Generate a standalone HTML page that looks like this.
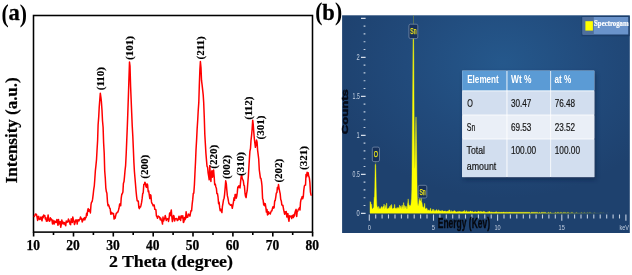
<!DOCTYPE html>
<html><head><meta charset="utf-8"><title>XRD and EDS</title>
<style>
html,body{margin:0;padding:0;background:#fff;}
svg{display:block}
.tb{font-family:"Liberation Serif",serif;font-weight:bold;fill:#000}
.sb{font-family:"Liberation Sans",sans-serif;}
</style></head><body>
<svg width="632" height="275" viewBox="0 0 632 275">
<defs>
<radialGradient id="bg" cx="0.56" cy="0.22" r="0.62">
<stop offset="0" stop-color="#25588c"/><stop offset="0.55" stop-color="#214a7b"/><stop offset="1" stop-color="#1e416e"/>
</radialGradient>
<clipPath id="pc"><rect x="33.5" y="16" width="279" height="215.5"/></clipPath>
<filter id="sh" x="-20%" y="-20%" width="140%" height="140%"><feGaussianBlur stdDeviation="2.2"/></filter>
<linearGradient id="yf" gradientUnits="userSpaceOnUse" x1="480" y1="0" x2="612" y2="0"><stop offset="0" stop-color="#ffff00" stop-opacity="1"/><stop offset="0.35" stop-color="#f4f410" stop-opacity="0.95"/><stop offset="0.7" stop-color="#c8d020" stop-opacity="0.5"/><stop offset="1" stop-color="#a0b030" stop-opacity="0"/></linearGradient>
</defs>
<rect width="632" height="275" fill="#fff"/>

<text class="tb"><tspan x="1.5" y="21.5" font-size="24.6" textLength="7.2" lengthAdjust="spacingAndGlyphs">(</tspan><tspan x="8.6" y="20.3" font-size="22.5" stroke="#000" stroke-width="0.3">a</tspan><tspan x="19.7" y="21.5" font-size="24.6" textLength="7.2" lengthAdjust="spacingAndGlyphs">)</tspan></text>
<rect x="33.5" y="15.5" width="279" height="216.6" fill="none" stroke="#000" stroke-width="1.55"/>
<text class="tb" x="33.2" y="249.6" font-size="13.8" text-anchor="middle" textLength="13.5" lengthAdjust="spacingAndGlyphs" stroke="#000" stroke-width="0.25">10</text>
<text class="tb" x="73.1" y="249.6" font-size="13.8" text-anchor="middle" textLength="13.5" lengthAdjust="spacingAndGlyphs" stroke="#000" stroke-width="0.25">20</text>
<text class="tb" x="112.9" y="249.6" font-size="13.8" text-anchor="middle" textLength="13.5" lengthAdjust="spacingAndGlyphs" stroke="#000" stroke-width="0.25">30</text>
<text class="tb" x="152.8" y="249.6" font-size="13.8" text-anchor="middle" textLength="13.5" lengthAdjust="spacingAndGlyphs" stroke="#000" stroke-width="0.25">40</text>
<text class="tb" x="192.6" y="249.6" font-size="13.8" text-anchor="middle" textLength="13.5" lengthAdjust="spacingAndGlyphs" stroke="#000" stroke-width="0.25">50</text>
<text class="tb" x="232.5" y="249.6" font-size="13.8" text-anchor="middle" textLength="13.5" lengthAdjust="spacingAndGlyphs" stroke="#000" stroke-width="0.25">60</text>
<text class="tb" x="272.4" y="249.6" font-size="13.8" text-anchor="middle" textLength="13.5" lengthAdjust="spacingAndGlyphs" stroke="#000" stroke-width="0.25">70</text>
<text class="tb" x="312.2" y="249.6" font-size="13.8" text-anchor="middle" textLength="13.5" lengthAdjust="spacingAndGlyphs" stroke="#000" stroke-width="0.25">80</text>
<path d="M33.6,232.2 v4.3 M53.5,232.2 v2.7 M73.5,232.2 v4.3 M93.4,232.2 v2.7 M113.3,232.2 v4.3 M133.2,232.2 v2.7 M153.2,232.2 v4.3 M173.1,232.2 v2.7 M193.0,232.2 v4.3 M213.0,232.2 v2.7 M232.9,232.2 v4.3 M252.8,232.2 v2.7 M272.8,232.2 v4.3 M292.7,232.2 v2.7 M312.6,232.2 v4.3" stroke="#000" stroke-width="1.6" fill="none"/>
<text class="tb" x="108.9" y="266.6" font-size="15.8" textLength="124" lengthAdjust="spacingAndGlyphs" stroke="#000" stroke-width="0.2">2 Theta (degree)</text>
<text class="tb" transform="translate(16.7,183.3) rotate(-90)" font-size="15.8" textLength="106" lengthAdjust="spacingAndGlyphs" stroke="#000" stroke-width="0.2">Intensity (a.u.)</text>
<path d="M33.8,215.7 L34.3,216.5 L34.9,215.2 L35.4,214.0 L36.0,214.9 L36.5,214.3 L37.1,217.3 L37.6,220.4 L38.2,216.7 L38.7,216.4 L39.3,219.3 L39.8,219.5 L40.4,218.9 L40.9,216.9 L41.5,219.2 L42.0,220.8 L42.6,216.6 L43.1,217.8 L43.7,215.0 L44.2,216.0 L44.8,215.5 L45.3,219.0 L45.9,217.7 L46.4,221.1 L47.0,221.3 L47.5,219.9 L48.1,214.9 L48.6,219.2 L49.2,221.1 L49.7,221.3 L50.3,217.8 L50.8,219.7 L51.4,219.0 L51.9,219.9 L52.5,223.9 L53.0,220.3 L53.6,222.0 L54.1,224.0 L54.7,221.0 L55.2,221.8 L55.8,222.5 L56.3,222.1 L56.9,219.5 L57.4,222.6 L58.0,225.3 L58.5,219.4 L59.1,224.1 L59.6,222.8 L60.2,221.6 L60.7,227.3 L61.3,224.6 L61.8,219.9 L62.4,222.5 L62.9,223.8 L63.5,222.3 L64.0,224.0 L64.6,222.6 L65.1,224.4 L65.7,225.8 L66.2,221.1 L66.8,222.4 L67.3,221.2 L67.9,222.0 L68.4,219.1 L69.0,220.3 L69.5,221.7 L70.1,224.4 L70.6,224.6 L71.2,218.8 L71.7,219.7 L72.3,222.4 L72.8,216.9 L73.4,219.8 L73.9,221.4 L74.5,224.5 L75.0,223.1 L75.6,220.4 L76.1,219.9 L76.7,220.6 L77.2,224.1 L77.8,219.9 L78.3,219.7 L78.9,221.0 L79.4,219.8 L80.0,219.1 L80.5,217.0 L81.1,219.0 L81.6,218.6 L82.2,221.9 L82.7,220.7 L83.3,218.8 L83.8,219.7 L84.4,217.6 L84.9,219.9 L85.5,217.6 L86.0,217.6 L86.6,213.3 L87.1,215.4 L87.7,210.3 L88.2,208.6 L88.8,211.3 L89.3,209.6 L89.9,210.8 L90.4,212.9 L91.0,204.6 L91.5,202.2 L92.1,201.6 L92.6,199.2 L93.2,194.3 L93.7,189.7 L94.3,185.8 L94.8,179.2 L95.4,170.3 L95.9,165.8 L96.5,159.8 L97.0,150.8 L97.6,140.7 L98.1,125.0 L98.7,117.1 L99.2,107.6 L99.8,99.5 L100.3,93.2 L100.9,97.4 L101.4,101.7 L102.0,110.3 L102.5,120.8 L103.1,127.3 L103.6,142.5 L104.2,153.0 L104.7,170.7 L105.3,178.2 L105.8,187.8 L106.4,191.8 L106.9,193.2 L107.5,202.0 L108.0,205.7 L108.6,204.9 L109.1,206.3 L109.7,208.3 L110.2,208.8 L110.8,214.2 L111.3,212.2 L111.9,213.7 L112.4,213.1 L113.0,213.8 L113.5,213.5 L114.1,219.1 L114.6,216.6 L115.2,218.2 L115.7,215.6 L116.3,213.2 L116.8,213.1 L117.4,212.0 L117.9,212.1 L118.5,210.1 L119.0,208.3 L119.6,204.3 L120.1,203.7 L120.7,205.7 L121.2,198.4 L121.8,194.2 L122.3,193.8 L122.9,192.1 L123.4,183.4 L124.0,181.6 L124.5,176.6 L125.1,169.8 L125.6,165.7 L126.2,153.8 L126.7,141.6 L127.3,127.0 L127.8,113.4 L128.4,95.8 L128.9,80.1 L129.5,62.0 L130.0,66.0 L130.6,86.6 L131.1,98.6 L131.7,113.3 L132.2,125.4 L132.8,136.0 L133.3,147.6 L133.9,162.2 L134.4,171.3 L135.0,178.2 L135.5,184.2 L136.1,191.5 L136.6,196.5 L137.2,200.9 L137.7,201.1 L138.3,201.1 L138.8,207.4 L139.4,208.6 L139.9,206.5 L140.5,207.0 L141.0,205.4 L141.6,202.4 L142.1,198.9 L142.7,193.6 L143.2,193.0 L143.8,184.4 L144.3,184.5 L144.9,182.3 L145.4,183.2 L146.0,186.6 L146.5,187.4 L147.1,183.9 L147.6,184.8 L148.2,191.8 L148.7,191.0 L149.3,195.1 L149.8,198.6 L150.4,194.8 L150.9,195.3 L151.5,201.9 L152.0,203.4 L152.6,204.2 L153.1,205.8 L153.7,205.1 L154.2,205.1 L154.8,209.3 L155.3,209.3 L155.9,209.9 L156.4,215.9 L157.0,216.7 L157.5,218.2 L158.1,215.9 L158.6,216.8 L159.2,216.7 L159.7,217.4 L160.3,219.8 L160.8,218.1 L161.4,220.4 L161.9,221.2 L162.5,224.1 L163.0,217.0 L163.6,221.0 L164.1,219.3 L164.7,218.7 L165.2,215.5 L165.8,217.7 L166.3,220.6 L166.9,219.0 L167.4,218.9 L168.0,218.5 L168.5,221.4 L169.1,218.3 L169.6,213.1 L170.2,215.7 L170.7,212.6 L171.3,210.0 L171.8,216.7 L172.4,221.6 L172.9,218.7 L173.5,215.4 L174.0,216.2 L174.6,221.0 L175.1,219.2 L175.7,218.6 L176.2,218.4 L176.8,218.8 L177.3,220.6 L177.9,220.1 L178.4,218.9 L179.0,216.2 L179.5,219.2 L180.1,217.3 L180.6,220.5 L181.2,215.7 L181.7,217.7 L182.3,217.9 L182.8,215.7 L183.4,222.4 L183.9,222.0 L184.5,217.6 L185.0,219.8 L185.6,218.2 L186.1,211.7 L186.7,217.4 L187.2,217.3 L187.8,217.0 L188.3,214.1 L188.9,214.9 L189.4,214.6 L190.0,216.1 L190.5,212.9 L191.1,210.5 L191.6,210.8 L192.2,203.9 L192.7,199.9 L193.3,193.3 L193.8,193.3 L194.4,184.9 L194.9,174.2 L195.5,162.3 L196.0,150.1 L196.6,139.9 L197.1,129.6 L197.7,120.2 L198.2,111.0 L198.8,102.4 L199.3,86.1 L199.9,69.3 L200.4,61.5 L201.0,67.8 L201.5,80.2 L202.1,84.9 L202.6,89.4 L203.2,94.9 L203.7,102.7 L204.3,118.0 L204.8,134.2 L205.4,144.5 L205.9,153.1 L206.5,160.4 L207.0,166.2 L207.6,167.3 L208.1,172.9 L208.7,176.5 L209.2,179.8 L209.8,165.7 L210.3,174.6 L210.9,181.5 L211.4,172.6 L212.0,170.6 L212.5,177.2 L213.1,173.9 L213.6,170.1 L214.2,177.1 L214.7,184.8 L215.3,184.1 L215.8,186.7 L216.4,188.4 L216.9,193.6 L217.5,193.6 L218.0,196.8 L218.6,203.8 L219.1,202.1 L219.7,207.9 L220.2,210.7 L220.8,209.3 L221.3,210.5 L221.9,212.6 L222.4,206.6 L223.0,203.2 L223.5,199.8 L224.1,198.2 L224.6,194.3 L225.2,187.4 L225.7,180.8 L226.3,183.6 L226.8,189.7 L227.4,195.9 L227.9,197.9 L228.5,201.4 L229.0,203.8 L229.6,204.0 L230.1,204.9 L230.7,205.3 L231.2,204.6 L231.8,205.8 L232.3,208.3 L232.9,205.0 L233.4,202.3 L234.0,197.8 L234.5,200.3 L235.1,194.5 L235.6,194.4 L236.2,198.2 L236.7,196.6 L237.3,192.4 L237.8,187.1 L238.4,187.6 L238.9,185.7 L239.5,187.0 L240.0,188.0 L240.6,181.6 L241.1,177.0 L241.7,175.2 L242.2,178.3 L242.8,179.9 L243.3,180.7 L243.9,185.2 L244.4,185.8 L245.0,193.2 L245.5,196.3 L246.1,197.6 L246.6,193.5 L247.2,190.7 L247.7,184.3 L248.3,177.0 L248.8,168.5 L249.4,158.6 L249.9,151.4 L250.5,148.3 L251.0,140.6 L251.6,135.1 L252.1,129.5 L252.7,120.2 L253.2,124.3 L253.8,132.3 L254.3,138.5 L254.9,143.4 L255.4,147.3 L256.0,144.3 L256.5,140.0 L257.1,142.2 L257.6,150.1 L258.2,154.8 L258.7,159.0 L259.3,170.0 L259.8,173.7 L260.4,178.1 L260.9,178.2 L261.5,181.6 L262.0,186.0 L262.6,198.9 L263.1,199.6 L263.7,205.0 L264.2,203.2 L264.8,205.8 L265.3,203.8 L265.9,207.9 L266.4,212.1 L267.0,209.4 L267.5,214.9 L268.1,214.5 L268.6,211.8 L269.2,213.0 L269.7,213.4 L270.3,213.9 L270.8,212.2 L271.4,210.8 L271.9,210.8 L272.5,208.2 L273.0,206.7 L273.6,208.1 L274.1,207.7 L274.7,200.7 L275.2,200.6 L275.8,196.8 L276.3,193.0 L276.9,192.6 L277.4,187.4 L278.0,188.9 L278.5,184.5 L279.1,188.6 L279.6,191.1 L280.2,193.9 L280.7,199.2 L281.3,200.9 L281.8,204.7 L282.4,205.6 L282.9,205.4 L283.5,209.0 L284.0,211.3 L284.6,214.2 L285.1,211.7 L285.7,213.7 L286.2,211.6 L286.8,217.0 L287.3,214.4 L287.9,213.5 L288.4,218.3 L289.0,221.3 L289.5,215.8 L290.1,216.2 L290.6,216.8 L291.2,216.0 L291.7,218.6 L292.3,215.7 L292.8,215.4 L293.4,217.6 L293.9,214.6 L294.5,216.0 L295.0,212.4 L295.6,210.6 L296.1,209.4 L296.7,216.4 L297.2,211.6 L297.8,211.1 L298.3,209.5 L298.9,208.6 L299.4,207.8 L300.0,210.0 L300.5,202.4 L301.1,199.2 L301.6,198.5 L302.2,196.6 L302.7,198.8 L303.3,196.6 L303.8,190.1 L304.4,185.9 L304.9,185.2 L305.5,185.1 L306.0,174.5 L306.6,176.8 L307.1,172.3 L307.7,175.4 L308.2,172.8 L308.8,176.5 L309.3,177.7 L309.9,182.6 L310.4,191.8 L311.0,194.9 L311.5,195.6" fill="none" stroke="#ff0000" stroke-width="1.5" stroke-linejoin="round" clip-path="url(#pc)"/>
<text class="tb" transform="translate(103.8,78.6) rotate(-90)" font-size="11" text-anchor="middle" stroke="#000" stroke-width="0.15">(110)</text>
<text class="tb" transform="translate(132.7,48.1) rotate(-90)" font-size="11" text-anchor="middle" stroke="#000" stroke-width="0.15">(101)</text>
<text class="tb" transform="translate(148.4,166.8) rotate(-90)" font-size="11" text-anchor="middle" stroke="#000" stroke-width="0.15">(200)</text>
<text class="tb" transform="translate(203.9,47.9) rotate(-90)" font-size="11" text-anchor="middle" stroke="#000" stroke-width="0.15">(211)</text>
<text class="tb" transform="translate(216.5,156.8) rotate(-90)" font-size="11" text-anchor="middle" stroke="#000" stroke-width="0.15">(220)</text>
<text class="tb" transform="translate(229.6,167) rotate(-90)" font-size="11" text-anchor="middle" stroke="#000" stroke-width="0.15">(002)</text>
<text class="tb" transform="translate(243.6,164) rotate(-90)" font-size="11" text-anchor="middle" stroke="#000" stroke-width="0.15">(310)</text>
<text class="tb" transform="translate(251.9,108.1) rotate(-90)" font-size="11" text-anchor="middle" stroke="#000" stroke-width="0.15">(112)</text>
<text class="tb" transform="translate(263.6,127.5) rotate(-90)" font-size="11" text-anchor="middle" stroke="#000" stroke-width="0.15">(301)</text>
<text class="tb" transform="translate(281.6,170.7) rotate(-90)" font-size="11" text-anchor="middle" stroke="#000" stroke-width="0.15">(202)</text>
<text class="tb" transform="translate(306.6,158) rotate(-90)" font-size="11" text-anchor="middle" stroke="#000" stroke-width="0.15">(321)</text>
<text class="tb"><tspan x="315.3" y="20.4" font-size="24.6" textLength="7.2" lengthAdjust="spacingAndGlyphs">(</tspan><tspan x="322.2" y="20.1" font-size="22.5" stroke="#000" stroke-width="0.3">b</tspan><tspan x="335.0" y="20.4" font-size="24.6" textLength="7.2" lengthAdjust="spacingAndGlyphs">)</tspan></text>
<rect x="342.1" y="15.3" width="287.7" height="217.7" fill="url(#bg)"/>
<path d="M361,213.3 h4.6 M361,174.3 h4.6 M361,135.3 h4.6 M361,96.3 h4.6 M361,57.3 h4.6 M361,18.3 h4.6" stroke="#d5deea" stroke-width="1.2" fill="none"/>
<path d="M363.6,205.5 h1.8 M363.6,197.7 h1.8 M363.6,189.9 h1.8 M363.6,182.1 h1.8 M363.6,166.5 h1.8 M363.6,158.7 h1.8 M363.6,150.9 h1.8 M363.6,143.1 h1.8 M363.6,127.5 h1.8 M363.6,119.7 h1.8 M363.6,111.9 h1.8 M363.6,104.1 h1.8 M363.6,88.5 h1.8 M363.6,80.7 h1.8 M363.6,72.9 h1.8 M363.6,65.1 h1.8 M363.6,49.5 h1.8 M363.6,41.7 h1.8 M363.6,33.9 h1.8 M363.6,26.1 h1.8" stroke="#c3cfe0" stroke-width="1.1" fill="none"/>
<text class="sb" x="359.8" y="216.1" font-size="8.2" fill="#c3cfe0" text-anchor="end" textLength="3.2" lengthAdjust="spacingAndGlyphs">0</text>
<text class="sb" x="359.8" y="177.1" font-size="8.2" fill="#c3cfe0" text-anchor="end" textLength="7.2" lengthAdjust="spacingAndGlyphs">0.5</text>
<text class="sb" x="359.8" y="138.1" font-size="8.2" fill="#c3cfe0" text-anchor="end" textLength="3.2" lengthAdjust="spacingAndGlyphs">1</text>
<text class="sb" x="359.8" y="99.1" font-size="8.2" fill="#c3cfe0" text-anchor="end" textLength="7.2" lengthAdjust="spacingAndGlyphs">1.5</text>
<text class="sb" x="359.8" y="60.1" font-size="8.2" fill="#c3cfe0" text-anchor="end" textLength="3.2" lengthAdjust="spacingAndGlyphs">2</text>
<path d="M369.3,214.4 v6.4 M375.7,214.4 v4.0 M382.1,214.4 v4.0 M388.5,214.4 v4.0 M395.0,214.4 v4.0 M401.4,214.4 v4.0 M407.8,214.4 v4.0 M414.2,214.4 v4.0 M420.6,214.4 v4.0 M427.0,214.4 v4.0 M433.5,214.4 v6.4 M439.9,214.4 v4.0 M446.3,214.4 v4.0 M452.7,214.4 v4.0 M459.1,214.4 v4.0 M465.5,214.4 v4.0 M471.9,214.4 v4.0 M478.4,214.4 v4.0 M484.8,214.4 v4.0 M491.2,214.4 v4.0 M497.6,214.4 v6.4 M504.0,214.4 v4.0 M510.4,214.4 v4.0 M516.8,214.4 v4.0 M523.3,214.4 v4.0 M529.7,214.4 v4.0 M536.1,214.4 v4.0 M542.5,214.4 v4.0 M548.9,214.4 v4.0 M555.3,214.4 v4.0 M561.8,214.4 v6.4 M568.2,214.4 v4.0 M574.6,214.4 v4.0 M581.0,214.4 v4.0 M587.4,214.4 v4.0 M593.8,214.4 v4.0 M600.2,214.4 v4.0 M606.7,214.4 v4.0 M613.1,214.4 v4.0 M619.5,214.4 v4.0 M625.9,214.4 v6.4" stroke="#c3cfe0" stroke-width="1.1" fill="none"/>
<text class="sb" x="369.3" y="230.3" font-size="7.9" fill="#c3cfe0" text-anchor="middle" textLength="3.2" lengthAdjust="spacingAndGlyphs">0</text>
<text class="sb" x="433.4" y="230.3" font-size="7.9" fill="#c3cfe0" text-anchor="middle" textLength="3.2" lengthAdjust="spacingAndGlyphs">5</text>
<text class="sb" x="497.6" y="230.3" font-size="7.9" fill="#c3cfe0" text-anchor="middle" textLength="6.2" lengthAdjust="spacingAndGlyphs">10</text>
<text class="sb" x="561.7" y="230.3" font-size="7.9" fill="#c3cfe0" text-anchor="middle" textLength="6.2" lengthAdjust="spacingAndGlyphs">15</text>
<text class="sb" x="629" y="230.3" font-size="7.9" fill="#c3cfe0" text-anchor="end" textLength="9.5" lengthAdjust="spacingAndGlyphs">keV</text>
<path d="M413.5,15.3 V41" stroke="#98a52c" stroke-width="0.6" opacity="0.75"/>
<path d="M375.7,161 V167" stroke="#98a52c" stroke-width="0.6" opacity="0.75"/>
<path d="M370,213.2 L370.0,201.7 L370.2,201.7 L370.5,202.2 L370.8,202.2 L371.0,206.9 L371.2,206.9 L371.5,204.3 L371.8,204.3 L372.0,209.1 L372.2,209.1 L372.5,209.0 L372.8,209.0 L373.0,208.1 L373.2,208.1 L373.5,207.7 L373.8,207.2 L374.0,200.6 L374.2,197.3 L374.5,196.6 L374.8,187.0 L375.0,174.5 L375.2,164.8 L375.5,164.3 L375.8,168.1 L376.0,176.6 L376.2,188.0 L376.5,199.0 L376.8,205.2 L377.0,205.7 L377.2,207.1 L377.5,207.2 L377.8,207.3 L378.0,209.2 L378.2,209.2 L378.5,206.5 L378.8,206.5 L379.0,207.7 L379.2,207.7 L379.5,209.1 L379.8,209.1 L380.0,208.7 L380.2,208.6 L380.5,208.8 L380.8,208.8 L381.0,207.3 L381.2,207.3 L381.5,206.6 L381.8,206.6 L382.0,208.6 L382.2,208.6 L382.5,207.6 L382.8,207.2 L383.0,207.3 L383.2,206.2 L383.5,206.3 L383.8,206.8 L384.0,204.0 L384.2,204.9 L384.5,209.0 L384.8,209.1 L385.0,205.4 L385.2,205.4 L385.5,207.5 L385.8,207.5 L386.0,208.4 L386.2,208.4 L386.5,203.3 L386.8,203.3 L387.0,209.0 L387.2,209.0 L387.5,208.8 L387.8,208.8 L388.0,208.8 L388.2,208.8 L388.5,208.0 L388.8,208.0 L389.0,208.2 L389.2,208.2 L389.5,206.4 L389.8,206.4 L390.0,208.3 L390.2,207.9 L390.5,206.3 L390.8,205.2 L391.0,206.0 L391.2,206.5 L391.5,204.4 L391.8,205.2 L392.0,208.4 L392.2,208.5 L392.5,208.8 L392.8,208.8 L393.0,208.8 L393.2,208.8 L393.5,208.0 L393.8,208.0 L394.0,207.7 L394.2,207.7 L394.5,204.5 L394.8,204.5 L395.0,208.0 L395.2,208.0 L395.5,208.6 L395.8,208.6 L396.0,208.5 L396.2,208.5 L396.5,208.2 L396.8,208.2 L397.0,207.5 L397.2,207.5 L397.5,208.6 L397.8,208.6 L398.0,207.5 L398.2,207.5 L398.5,208.1 L398.8,208.1 L399.0,208.8 L399.2,208.8 L399.5,205.1 L399.8,205.2 L400.0,207.9 L400.2,207.9 L400.5,206.2 L400.8,206.2 L401.0,206.6 L401.2,206.7 L401.5,208.8 L401.8,208.8 L402.0,205.2 L402.2,205.2 L402.5,206.9 L402.8,206.9 L403.0,209.1 L403.2,209.1 L403.5,202.7 L403.8,202.7 L404.0,208.5 L404.2,208.6 L404.5,205.6 L404.8,205.6 L405.0,206.2 L405.2,206.2 L405.5,208.0 L405.8,208.0 L406.0,206.3 L406.2,206.4 L406.5,208.7 L406.8,208.7 L407.0,208.9 L407.2,208.7 L407.5,204.3 L407.8,202.7 L408.0,200.9 L408.2,198.9 L408.5,202.4 L408.8,203.9 L409.0,205.7 L409.2,207.2 L409.5,205.3 L409.8,205.2 L410.0,206.3 L410.2,205.8 L410.5,205.8 L410.8,205.0 L411.0,203.9 L411.2,201.8 L411.5,198.2 L411.8,189.6 L412.0,171.8 L412.2,146.5 L412.5,112.6 L412.8,74.2 L413.0,43.3 L413.2,27.4 L413.5,32.0 L413.8,57.9 L414.0,94.4 L414.2,129.7 L414.5,154.7 L414.8,167.7 L415.0,168.6 L415.2,156.6 L415.5,138.7 L415.8,122.8 L416.0,116.9 L416.2,125.0 L416.5,142.4 L416.8,164.2 L417.0,181.3 L417.2,193.3 L417.5,201.9 L417.8,204.5 L418.0,206.2 L418.2,205.8 L418.5,204.4 L418.8,203.2 L419.0,199.2 L419.2,198.3 L419.5,200.4 L419.8,200.4 L420.0,200.3 L420.2,200.9 L420.5,200.8 L420.8,200.9 L421.0,198.1 L421.2,197.9 L421.5,201.7 L421.8,202.4 L422.0,202.6 L422.2,203.9 L422.5,206.1 L422.8,206.9 L423.0,206.8 L423.2,206.9 L423.5,207.9 L423.8,207.8 L424.0,206.5 L424.2,206.6 L424.5,203.3 L424.8,203.7 L425.0,208.5 L425.2,208.9 L425.5,208.6 L425.8,209.0 L426.0,209.1 L426.2,209.3 L426.5,207.9 L426.8,208.0 L427.0,209.0 L427.2,209.1 L427.5,210.5 L427.8,210.5 L428.0,210.6 L428.2,210.6 L428.5,209.9 L428.8,209.9 L429.0,210.3 L429.2,210.3 L429.5,211.1 L429.8,211.1 L430.0,209.8 L430.2,209.9 L430.5,208.3 L430.8,208.4 L431.0,211.0 L431.2,211.0 L431.5,211.2 L431.8,211.2 L432.0,211.0 L432.2,211.0 L432.5,209.5 L432.8,209.5 L433.0,211.3 L433.2,211.3 L433.5,209.4 L433.8,209.4 L434.0,210.1 L434.2,210.1 L434.5,211.2 L434.8,211.2 L435.0,211.2 L435.2,211.2 L435.5,210.5 L435.8,210.5 L436.0,210.2 L436.2,210.2 L436.5,209.6 L436.8,209.7 L437.0,210.4 L437.2,210.4 L437.5,211.1 L437.8,211.2 L438.0,210.8 L438.2,210.8 L438.5,209.8 L438.8,209.8 L439.0,210.4 L439.2,210.4 L439.5,211.1 L439.8,211.1 L440.0,211.1 L440.2,211.1 L440.5,211.1 L440.8,211.2 L441.0,210.6 L441.2,210.6 L441.5,211.4 L441.8,211.5 L442.0,210.5 L442.2,210.6 L442.5,210.8 L442.8,210.8 L443.0,210.9 L443.2,210.9 L443.5,211.6 L443.8,211.6 L444.0,211.1 L444.2,211.1 L444.5,211.1 L444.8,211.1 L445.0,211.6 L445.2,211.6 L445.5,210.9 L445.8,210.9 L446.0,211.8 L446.2,211.8 L446.5,211.5 L446.8,211.5 L447.0,211.0 L447.2,211.0 L447.5,211.3 L447.8,211.3 L448.0,211.5 L448.2,211.5 L448.5,210.8 L448.8,210.8 L449.0,209.8 L449.2,209.9 L449.5,210.1 L449.8,210.1 L450.0,211.9 L450.2,211.9 L450.5,211.8 L450.8,211.8 L451.0,210.6 L451.2,210.6 L451.5,211.9 L451.8,211.9 L452.0,211.1 L452.2,211.2 L452.5,211.9 L452.8,211.9 L453.0,211.6 L453.2,211.6 L453.5,211.3 L453.8,211.3 L454.0,210.6 L454.2,210.7 L454.5,210.8 L454.8,210.8 L455.0,211.5 L455.2,211.5 L455.5,211.4 L455.8,211.4 L456.0,212.0 L456.2,212.0 L456.5,211.9 L456.8,211.9 L457.0,211.6 L457.2,211.6 L457.5,211.8 L457.8,211.8 L458.0,211.7 L458.2,211.7 L458.5,211.4 L458.8,211.4 L459.0,211.8 L459.2,211.9 L459.5,211.3 L459.8,211.3 L460.0,211.3 L460.2,211.3 L460.5,212.1 L460.8,212.1 L461.0,211.6 L461.2,211.6 L461.5,211.9 L461.8,211.9 L462.0,212.0 L462.2,212.0 L462.5,211.7 L462.8,211.7 L463.0,211.0 L463.2,211.0 L463.5,211.4 L463.8,211.4 L464.0,211.9 L464.2,211.9 L464.5,210.4 L464.8,210.4 L465.0,211.5 L465.2,211.5 L465.5,212.1 L465.8,212.1 L466.0,211.7 L466.2,211.7 L466.5,210.8 L466.8,210.8 L467.0,212.1 L467.2,212.1 L467.5,212.0 L467.8,212.0 L468.0,211.4 L468.2,211.4 L468.5,211.9 L468.8,211.9 L469.0,211.8 L469.2,211.8 L469.5,211.9 L469.8,211.9 L470.0,211.0 L470.2,211.0 L470.5,211.1 L470.8,211.1 L471.0,211.9 L471.2,211.9 L471.5,211.8 L471.8,211.8 L472.0,211.0 L472.2,211.0 L472.5,211.9 L472.8,211.9 L473.0,212.2 L473.2,212.2 L473.5,212.0 L473.8,212.0 L474.0,211.9 L474.2,211.9 L474.5,212.1 L474.8,212.1 L475.0,211.3 L475.2,211.3 L475.5,212.1 L475.8,212.1 L476.0,211.9 L476.2,211.9 L476.5,212.1 L476.8,212.1 L477.0,212.0 L477.2,212.0 L477.5,212.1 L477.8,212.2 L478.0,210.9 L478.2,211.0 L478.5,211.6 L478.8,211.6 L479.0,212.2 L479.2,212.2 L479.5,211.7 L479.8,211.7 L480.0,211.2 L480.2,211.2 L480.5,212.3 L480.8,212.3 L481.0,211.3 L481.2,211.4 L481.5,211.9 L481.8,211.9 L482.0,211.7 L482.2,211.7 L482.5,212.1 L482.8,212.1 L483.0,212.3 L483.2,212.3 L483.5,211.3 L483.8,211.3 L484.0,212.3 L484.2,212.3 L484.5,211.6 L484.8,211.6 L485.0,212.3 L485.2,212.3 L485.5,212.3 L485.8,212.3 L486.0,212.3 L486.2,212.3 L486.5,212.3 L486.8,212.3 L487.0,212.2 L487.2,212.2 L487.5,212.2 L487.8,212.2 L488.0,211.6 L488.2,211.7 L488.5,212.3 L488.8,212.3 L489.0,211.6 L489.2,211.6 L489.5,211.5 L489.8,211.6 L490.0,211.9 L490.2,211.9 L490.5,212.2 L490.8,212.2 L491.0,212.2 L491.2,212.2 L491.5,211.9 L491.8,211.9 L492.0,212.3 L492.2,212.3 L492.5,212.3 L492.8,212.3 L493.0,212.3 L493.2,212.3 L493.5,212.3 L493.8,212.3 L494.0,212.3 L494.2,212.3 L494.5,212.3 L494.8,212.3 L495.0,212.1 L495.2,212.1 L495.5,212.3 L495.8,212.3 L496.0,211.6 L496.2,211.6 L496.5,212.3 L496.8,212.3 L497.0,212.3 L497.2,212.3 L497.5,212.3 L497.8,212.3 L498.0,212.3 L498.2,212.3 L498.5,212.2 L498.8,212.2 L499.0,212.3 L499.2,212.3 L499.5,212.3 L499.8,212.3 L500.0,212.3 L500.2,212.3 L500.5,212.3 L500.8,212.3 L501.0,212.1 L501.2,212.1 L501.5,212.3 L501.8,212.3 L502.0,212.3 L502.2,212.3 L502.5,212.3 L502.8,212.3 L503.0,212.1 L503.2,212.1 L503.5,212.0 L503.8,212.0 L504.0,212.3 L504.2,212.3 L504.5,212.3 L504.8,212.3 L505.0,212.3 L505.2,212.3 L505.5,212.3 L505.8,212.3 L506.0,212.2 L506.2,212.2 L506.5,212.2 L506.8,212.2 L507.0,212.3 L507.2,212.3 L507.5,212.3 L507.8,212.3 L508.0,212.3 L508.2,212.3 L508.5,212.3 L508.8,212.3 L509.0,212.3 L509.2,212.3 L509.5,212.1 L509.8,212.1 L510.0,212.3 L510.2,212.3 L510.5,212.3 L510.8,212.3 L511.0,212.3 L511.2,212.3 L511.5,212.3 L511.8,212.3 L512.0,212.3 L512.2,212.3 L512.5,212.3 L512.8,212.3 L513.0,212.3 L513.2,212.3 L513.5,212.3 L513.8,212.3 L514.0,212.3 L514.2,212.3 L514.5,212.3 L514.8,212.3 L515.0,212.3 L515.2,212.3 L515.5,212.3 L515.8,212.3 L516.0,212.3 L516.2,212.3 L516.5,212.3 L516.8,212.3 L517.0,212.3 L517.2,212.3 L517.5,212.3 L517.8,212.3 L518.0,212.3 L518.2,212.3 L518.5,212.3 L518.8,212.3 L519.0,212.3 L519.2,212.3 L519.5,212.3 L519.8,212.3 L520.0,212.3 L520.2,212.3 L520.5,212.3 L520.8,212.3 L521.0,212.3 L521.2,212.3 L521.5,212.3 L521.8,212.3 L522.0,212.3 L522.2,212.3 L522.5,212.3 L522.8,212.3 L523.0,212.3 L523.2,212.3 L523.5,212.3 L523.8,212.3 L524.0,212.3 L524.2,212.3 L524.5,212.3 L524.8,212.3 L525.0,212.3 L525.2,212.3 L525.5,212.3 L525.8,212.3 L526.0,212.3 L526.2,212.3 L526.5,212.3 L526.8,212.3 L527.0,212.3 L527.2,212.3 L527.5,212.3 L527.8,212.3 L528.0,212.3 L528.2,212.3 L528.5,212.3 L528.8,212.3 L529.0,212.3 L529.2,212.3 L529.5,212.3 L529.8,212.3 L530.0,213.2 L530.2,213.2 L530.5,213.2 L530.8,213.2 L531.0,212.3 L531.2,212.3 L531.5,212.3 L531.8,212.3 L532.0,212.3 L532.2,212.3 L532.5,212.3 L532.8,212.3 L533.0,212.3 L533.2,212.3 L533.5,212.3 L533.8,212.3 L534.0,212.3 L534.2,212.3 L534.5,212.3 L534.8,212.3 L535.0,212.3 L535.2,212.3 L535.5,212.3 L535.8,212.3 L536.0,212.3 L536.2,212.3 L536.5,212.3 L536.8,212.3 L537.0,212.3 L537.2,212.3 L537.5,212.3 L537.8,212.3 L538.0,213.2 L538.2,213.2 L538.5,213.2 L538.8,213.2 L539.0,212.3 L539.2,212.3 L539.5,212.3 L539.8,212.3 L540.0,213.2 L540.2,213.2 L540.5,213.2 L540.8,213.2 L541.0,212.3 L541.2,212.3 L541.5,212.3 L541.8,212.3 L542.0,212.3 L542.2,212.3 L542.5,212.3 L542.8,212.3 L543.0,212.3 L543.2,212.3 L543.5,212.3 L543.8,212.3 L544.0,212.3 L544.2,212.3 L544.5,212.3 L544.8,212.3 L545.0,212.3 L545.2,212.3 L545.5,212.3 L545.8,212.3 L546.0,213.2 L546.2,213.2 L546.5,213.2 L546.8,213.2 L547.0,213.2 L547.2,213.2 L547.5,213.2 L547.8,213.2 L548.0,212.3 L548.2,212.3 L548.5,212.3 L548.8,212.3 L549.0,213.2 L549.2,213.2 L549.5,213.2 L549.8,213.2 L550.0,212.3 L550.2,212.3 L550.5,212.3 L550.8,212.3 L551.0,213.2 L551.2,213.2 L551.5,213.2 L551.8,213.2 L552.0,213.2 L552.2,213.2 L552.5,213.2 L552.8,213.2 L553.0,213.2 L553.2,213.2 L553.5,213.2 L553.8,213.2 L554.0,213.2 L554.2,213.2 L554.5,213.2 L554.8,213.2 L555.0,212.3 L555.2,212.3 L555.5,212.3 L555.8,212.3 L556.0,213.2 L556.2,213.2 L556.5,213.2 L556.8,213.2 L557.0,212.3 L557.2,212.3 L557.5,212.3 L557.8,212.3 L558.0,212.3 L558.2,212.3 L558.5,212.3 L558.8,212.3 L559.0,213.2 L559.2,213.2 L559.5,213.2 L559.8,213.2 L560.0,212.3 L560.2,212.3 L560.5,212.3 L560.8,212.3 L561.0,212.3 L561.2,212.3 L561.5,212.3 L561.8,212.3 L562.0,213.2 L562.2,213.2 L562.5,213.2 L562.8,213.2 L563.0,212.3 L563.2,212.3 L563.5,212.3 L563.8,212.3 L564.0,212.3 L564.2,212.3 L564.5,212.3 L564.8,212.3 L565.0,212.3 L565.2,212.3 L565.5,212.3 L565.8,212.3 L566.0,213.2 L566.2,213.2 L566.5,213.2 L566.8,213.2 L567.0,212.3 L567.2,212.3 L567.5,212.3 L567.8,212.3 L568.0,212.3 L568.2,212.3 L568.5,212.3 L568.8,212.3 L569.0,213.2 L569.2,213.2 L569.5,213.2 L569.8,213.2 L570.0,213.2 L570.2,213.2 L570.5,213.2 L570.8,213.2 L571.0,212.3 L571.2,212.3 L571.5,212.3 L571.8,212.3 L572.0,212.3 L572.2,212.3 L572.5,212.3 L572.8,212.3 L573.0,213.2 L573.2,213.2 L573.5,213.2 L573.8,213.2 L574.0,213.2 L574.2,213.2 L574.5,213.2 L574.8,213.2 L575.0,213.2 L575.2,213.2 L575.5,213.2 L575.8,213.2 L576.0,212.3 L576.2,212.3 L576.5,212.3 L576.8,212.3 L577.0,213.2 L577.2,213.2 L577.5,213.2 L577.8,213.2 L578.0,213.2 L578.2,213.2 L578.5,213.2 L578.8,213.2 L579.0,213.2 L579.2,213.2 L579.5,213.2 L579.8,213.2 L580.0,213.2 L580.2,213.2 L580.5,213.2 L580.8,213.2 L581.0,212.3 L581.2,212.3 L581.5,212.3 L581.8,212.3 L582.0,213.2 L582.2,213.2 L582.5,213.2 L582.8,213.2 L583.0,213.2 L583.2,213.2 L583.5,213.2 L583.8,213.2 L584.0,212.3 L584.2,212.3 L584.5,212.3 L584.8,212.3 L585.0,213.2 L585.2,213.2 L585.5,213.2 L585.8,213.2 L586.0,213.2 L586.2,213.2 L586.5,213.2 L586.8,213.2 L587.0,212.3 L587.2,212.3 L587.5,212.3 L587.8,212.3 L588.0,213.2 L588.2,213.2 L588.5,213.2 L588.8,213.2 L589.0,212.3 L589.2,212.3 L589.5,212.3 L589.8,212.3 L590.0,212.3 L590.2,212.3 L590.5,212.3 L590.8,212.3 L591.0,213.2 L591.2,213.2 L591.5,213.2 L591.8,213.2 L592.0,213.2 L592.2,213.2 L592.5,213.2 L592.8,213.2 L593.0,213.2 L593.2,213.2 L593.5,213.2 L593.8,213.2 L594.0,212.3 L594.2,212.3 L594.5,212.3 L594.8,212.3 L595.0,213.2 L595.2,213.2 L595.5,213.2 L595.8,213.2 L596.0,213.2 L596.2,213.2 L596.5,213.2 L596.8,213.2 L597.0,213.2 L597.2,213.2 L597.5,213.2 L597.8,213.2 L598.0,213.2 L598.2,213.2 L598.5,213.2 L598.8,213.2 L599.0,213.2 L599.2,213.2 L599.5,213.2 L599.8,213.2 L600.0,212.3 L600.2,212.3 L600.5,212.3 L600.8,212.3 L601.0,212.3 L601.2,212.3 L601.5,212.3 L601.8,212.3 L602.0,213.2 L602.2,213.2 L602.5,213.2 L602.8,213.2 L603.0,212.3 L603.2,212.3 L603.5,212.3 L603.8,212.3 L604.0,213.2 L604.2,213.2 L604.5,213.2 L604.8,213.2 L605.0,213.2 L605.2,213.2 L605.5,213.2 L605.8,213.2 L606.0,213.2 L606.2,213.2 L606.5,213.2 L606.8,213.2 L607.0,212.3 L607.2,212.3 L607.5,212.3 L607.8,212.3 L608.0,213.2 L608.2,213.2 L608.5,213.2 L608.8,213.2 L609.0,213.2 L609.2,213.2 L609.5,213.2 L609.8,213.2 L610.0,212.3 L610.2,212.3 L610.5,212.3 L610.8,212.3 L611.0,213.2 L611.2,213.2 L611.5,213.2 L611.8,213.2 L612.0,212.3 L612.2,212.3 L612.5,212.3 L612.8,212.3 L613.0,213.2 L613.2,213.2 L613.5,213.2 L613.8,213.2 L614.0,212.3 L614.2,212.3 L614.5,212.3 L614.8,212.3 L615.0,212.3 L615.2,212.3 L615.5,212.3 L615.8,212.3 L616.0,212.3 L616.2,212.3 L616.5,212.3 L616.8,212.3 L617.0,212.3 L617.2,212.3 L617.5,212.3 L617.8,212.3 L618.0,212.3 L618.2,212.3 L618.5,212.3 L618.8,212.3 L619.0,212.3 L619.2,212.3 L619.5,212.3 L619.8,212.3 L620.0,213.2 L620.2,213.2 L620.5,213.2 L620.8,213.2 L621.0,213.2 L621.2,213.2 L621.5,213.2 L621.8,213.2 L622.0,213.2 L622.2,213.2 L622.5,213.2 L622.8,213.2 L623.0,213.2 L623.2,213.2 L623.5,213.2 L623.8,213.2 L624.0,213.2 L624.2,213.2 L624.5,213.2 L624.8,213.2 L625.0,212.3 L625.2,212.3 L625.5,212.3 L625.8,212.3 L626.0,212.3 L626.2,212.3 L626.5,212.3 L626.8,212.3 L627.0,213.2 L627.2,213.2 L627.5,213.2 L627.8,213.2 L628.0,212.3 L628.2,212.3 L628.5,212.3 L628.8,212.3 L629.0,213.2 L629.2,213.2 L629.5,213.2 L629.8,213.2 L630,213.2 Z" fill="url(#yf)" stroke="url(#yf)" stroke-width="0.4" stroke-linejoin="round"/>
<rect x="408.9" y="24.2" width="8.9" height="14.4" rx="1.6" fill="#16305a" stroke="#7489a8" stroke-width="0.8"/>
<text class="sb" x="413.34999999999997" y="34.4" font-size="8.6" fill="#f2ea1a" stroke="#f2ea1a" stroke-width="0.25" text-anchor="middle" textLength="6.2" lengthAdjust="spacingAndGlyphs">Sn</text>
<rect x="372.3" y="147.1" width="7.2" height="14.5" rx="1.6" fill="#16305a" stroke="#7489a8" stroke-width="0.8"/>
<text class="sb" x="375.90000000000003" y="157.35" font-size="8.6" fill="#f2ea1a" stroke="#f2ea1a" stroke-width="0.25" text-anchor="middle" textLength="4.2" lengthAdjust="spacingAndGlyphs">O</text>
<rect x="418.2" y="185.3" width="8.6" height="12.7" rx="1.6" fill="#16305a" stroke="#7489a8" stroke-width="0.8"/>
<text class="sb" x="422.5" y="194.65" font-size="8.6" fill="#f2ea1a" stroke="#f2ea1a" stroke-width="0.25" text-anchor="middle" textLength="6.2" lengthAdjust="spacingAndGlyphs">Sn</text>
<text class="sb" x="437.8" y="227.6" font-size="14" font-weight="bold" fill="#05080f" stroke="#05080f" stroke-width="0.35" textLength="52.2" lengthAdjust="spacingAndGlyphs">Energy (Kev)</text>
<text class="sb" transform="translate(348.1,134.2) rotate(-90)" font-size="9" font-weight="bold" fill="#060b18" stroke="#060b18" stroke-width="0.45" textLength="45" lengthAdjust="spacingAndGlyphs">Counts</text>
<rect x="581.5" y="16.2" width="48.5" height="20" fill="#17345f" opacity="0.55"/>
<rect x="582.6" y="17" width="45.7" height="17.5" fill="#6a93cb"/>
<rect x="582.6" y="17" width="11.2" height="17.5" fill="#4f6f9c"/>
<rect x="585.4" y="21.2" width="7.5" height="9.4" fill="#ffff00"/>
<text x="594.1" y="26.3" font-size="7.8" fill="#fff" stroke="#fff" stroke-width="0.2" style="font-family:'Liberation Serif',serif;font-weight:bold" textLength="34.5" lengthAdjust="spacingAndGlyphs">Spectrogam</text>
<rect x="463.7" y="73" width="132.1" height="106.4" fill="#0c1e3c" opacity="0.55" filter="url(#sh)"/>
<rect x="462.2" y="70.7" width="132.1" height="106.4" fill="#ffffff"/>
<rect x="462.2" y="70.7" width="44.3" height="19.7" fill="#5b9bd5"/>
<rect x="507.4" y="70.7" width="42.9" height="19.7" fill="#5b9bd5"/>
<rect x="551.1" y="70.7" width="43.2" height="19.7" fill="#5b9bd5"/>
<rect x="462.2" y="91.3" width="44.3" height="23.3" fill="#d2deef"/>
<rect x="507.4" y="91.3" width="42.9" height="23.3" fill="#d2deef"/>
<rect x="551.1" y="91.3" width="43.2" height="23.3" fill="#d2deef"/>
<rect x="462.2" y="115.4" width="44.3" height="23.2" fill="#eaeff7"/>
<rect x="507.4" y="115.4" width="42.9" height="23.2" fill="#eaeff7"/>
<rect x="551.1" y="115.4" width="43.2" height="23.2" fill="#eaeff7"/>
<rect x="462.2" y="139.4" width="44.3" height="37.7" fill="#d2deef"/>
<rect x="507.4" y="139.4" width="42.9" height="37.7" fill="#d2deef"/>
<rect x="551.1" y="139.4" width="43.2" height="37.7" fill="#d2deef"/>
<text class="sb" x="467.2" y="83" font-size="11.2" font-weight="bold" fill="#fff" textLength="31.6" lengthAdjust="spacingAndGlyphs">Element</text>
<text class="sb" x="511" y="83" font-size="11.2" font-weight="bold" fill="#fff" textLength="20.5" lengthAdjust="spacingAndGlyphs">Wt %</text>
<text class="sb" x="554.5" y="83" font-size="11.2" font-weight="bold" fill="#fff" textLength="16.8" lengthAdjust="spacingAndGlyphs">at %</text>
<text class="sb" x="467.2" y="107.1" font-size="11" fill="#151515" stroke="#151515" stroke-width="0.2" textLength="5.6" lengthAdjust="spacingAndGlyphs">O</text>
<text class="sb" x="510.9" y="107.1" font-size="11" fill="#151515" stroke="#151515" stroke-width="0.2" textLength="20.4" lengthAdjust="spacingAndGlyphs">30.47</text>
<text class="sb" x="554.7" y="107.1" font-size="11" fill="#151515" stroke="#151515" stroke-width="0.2" textLength="20.4" lengthAdjust="spacingAndGlyphs">76.48</text>
<text class="sb" x="466.8" y="130.6" font-size="11" fill="#151515" stroke="#151515" stroke-width="0.2" textLength="8.6" lengthAdjust="spacingAndGlyphs">Sn</text>
<text class="sb" x="510.9" y="130.6" font-size="11" fill="#151515" stroke="#151515" stroke-width="0.2" textLength="20.4" lengthAdjust="spacingAndGlyphs">69.53</text>
<text class="sb" x="554.7" y="130.6" font-size="11" fill="#151515" stroke="#151515" stroke-width="0.2" textLength="20.4" lengthAdjust="spacingAndGlyphs">23.52</text>
<text class="sb" x="466.6" y="154.4" font-size="11" fill="#151515" stroke="#151515" stroke-width="0.2" textLength="18.4" lengthAdjust="spacingAndGlyphs">Total</text>
<text class="sb" x="510.9" y="154.4" font-size="11" fill="#151515" stroke="#151515" stroke-width="0.2" textLength="25.3" lengthAdjust="spacingAndGlyphs">100.00</text>
<text class="sb" x="554.7" y="154.4" font-size="11" fill="#151515" stroke="#151515" stroke-width="0.2" textLength="25.3" lengthAdjust="spacingAndGlyphs">100.00</text>
<text class="sb" x="466.8" y="169.6" font-size="11" fill="#151515" stroke="#151515" stroke-width="0.2" textLength="29.5" lengthAdjust="spacingAndGlyphs">amount</text>
</svg></body></html>
